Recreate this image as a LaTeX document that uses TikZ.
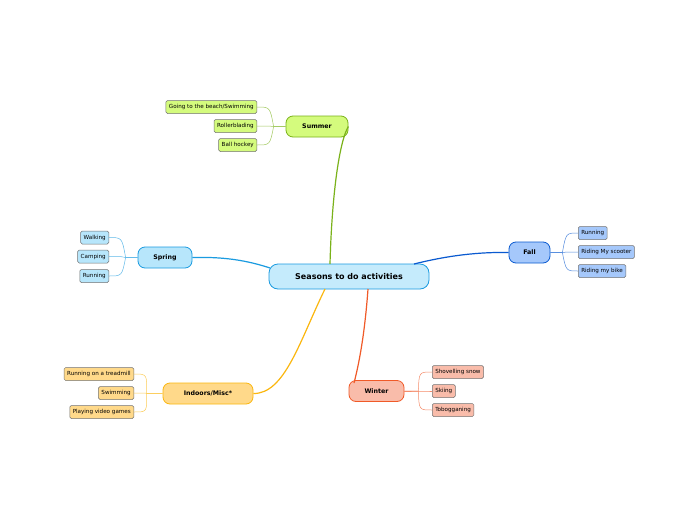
\documentclass[tikz,border=0pt]{standalone}
\usepackage{fontspec}
\setmainfont{DejaVu Sans}
\begin{document}
\begin{tikzpicture}[x=1pt,y=-1pt,
 br/.style={draw=#1,line width=0.8pt,rounded corners=7pt,minimum height=21pt,inner sep=0pt,font=\fontsize{6.3}{7}\selectfont\bfseries},
 lf/.style={draw=black!55,line width=0.5pt,rounded corners=1.5pt,minimum height=13pt,inner xsep=3pt,inner ysep=0pt,font=\fontsize{5.6}{6}\selectfont},
 ln/.style={line width=0.5pt}]
\definecolor{suF}{HTML}{D4FB7D}\definecolor{suL}{HTML}{7AB21A}
\definecolor{spF}{HTML}{B7E6FB}\definecolor{spL}{HTML}{1A9BE0}
\definecolor{faF}{HTML}{A5C8FB}\definecolor{faL}{HTML}{0A5AD0}
\definecolor{inF}{HTML}{FFD98A}\definecolor{inL}{HTML}{FBB710}
\definecolor{wiF}{HTML}{F9BCAA}\definecolor{wiL}{HTML}{F05A28}
\useasboundingbox[fill=white] (0,0) rectangle (697,520);
\node[draw=spL,fill=spF!80!white,line width=0.8pt,rounded corners=9pt,minimum width=160pt,minimum height=25pt,font=\fontsize{8}{9}\selectfont\bfseries] (c) at (349,276.5) {Seasons to do activities};
\node[br=suL,fill=suF,minimum width=62pt] (su) at (317,126.5) {Summer};
\node[br=spL,fill=spF,minimum width=54pt] (sp) at (165,257.5) {Spring};
\node[br=faL,fill=faF,minimum width=41pt] (fa) at (529.5,252.5) {Fall};
\node[br=inL,fill=inF,minimum width=90pt] (in) at (208,393.5) {Indoors/Misc*};
\node[br=wiL,fill=wiF,minimum width=55pt] (wi) at (376.5,391) {Winter};
% main connectors
\draw[suL,line width=1.2pt] (330,264) .. controls (332,190) and (340,140) .. (su.east);
\draw[spL,line width=1.2pt] (270,268) .. controls (240,258) and (215,257) .. (sp.east);
\draw[faL,line width=1.2pt] (414,264) .. controls (450,255) and (480,252) .. (fa.west);
\draw[inL,line width=1.2pt] (325,289) .. controls (300,340) and (285,394) .. (in.east);
\draw[wiL,line width=1.2pt] (368,289) .. controls (365,330) and (360,360) .. (354,383);
% leaves
\foreach \n/\t/\y in {a/{Going to the beach/Swimming}/107,b/Rollerblading/126,c/Ball hockey/145}{
 \node[lf,fill=suF,anchor=east] (su\n) at (257,\y) {\t};
 \draw[ln,suL!70] (su.west) -- ++(-12,0) .. controls (270,\y) .. (su\n.east);}
\foreach \n/\t/\y in {a/Walking/237.5,b/Camping/256.5,c/Running/276}{
 \node[lf,fill=spF,anchor=east] (sp\n) at (109,\y) {\t};
 \draw[ln,spL!70] (sp.west) -- ++(-12,0) .. controls (122,\y) .. (sp\n.east);}
\foreach \n/\t/\y in {a/Running/233,b/Riding My scooter/252,c/Riding my bike/271}{
 \node[lf,fill=faF,anchor=west] (fa\n) at (578,\y) {\t};
 \draw[ln,faL!70] (fa.east) -- ++(12,0) .. controls (566,\y) .. (fa\n.west);}
\foreach \n/\t/\y in {a/Running on a treadmill/374,b/Swimming/393,c/Playing video games/412}{
 \node[lf,fill=inF,anchor=east] (in\n) at (134,\y) {\t};
 \draw[ln,inL!70] (in.west) -- ++(-16,0) .. controls (147,\y) .. (in\n.east);}
\foreach \n/\t/\y in {a/Shovelling snow/372,b/Skiing/391,c/Tobogganing/410}{
 \node[lf,fill=wiF,anchor=west] (wi\n) at (432,\y) {\t};
 \draw[ln,wiL!70] (wi.east) -- ++(14,0) .. controls (419,\y) .. (wi\n.west);}
\end{tikzpicture}
\end{document}
